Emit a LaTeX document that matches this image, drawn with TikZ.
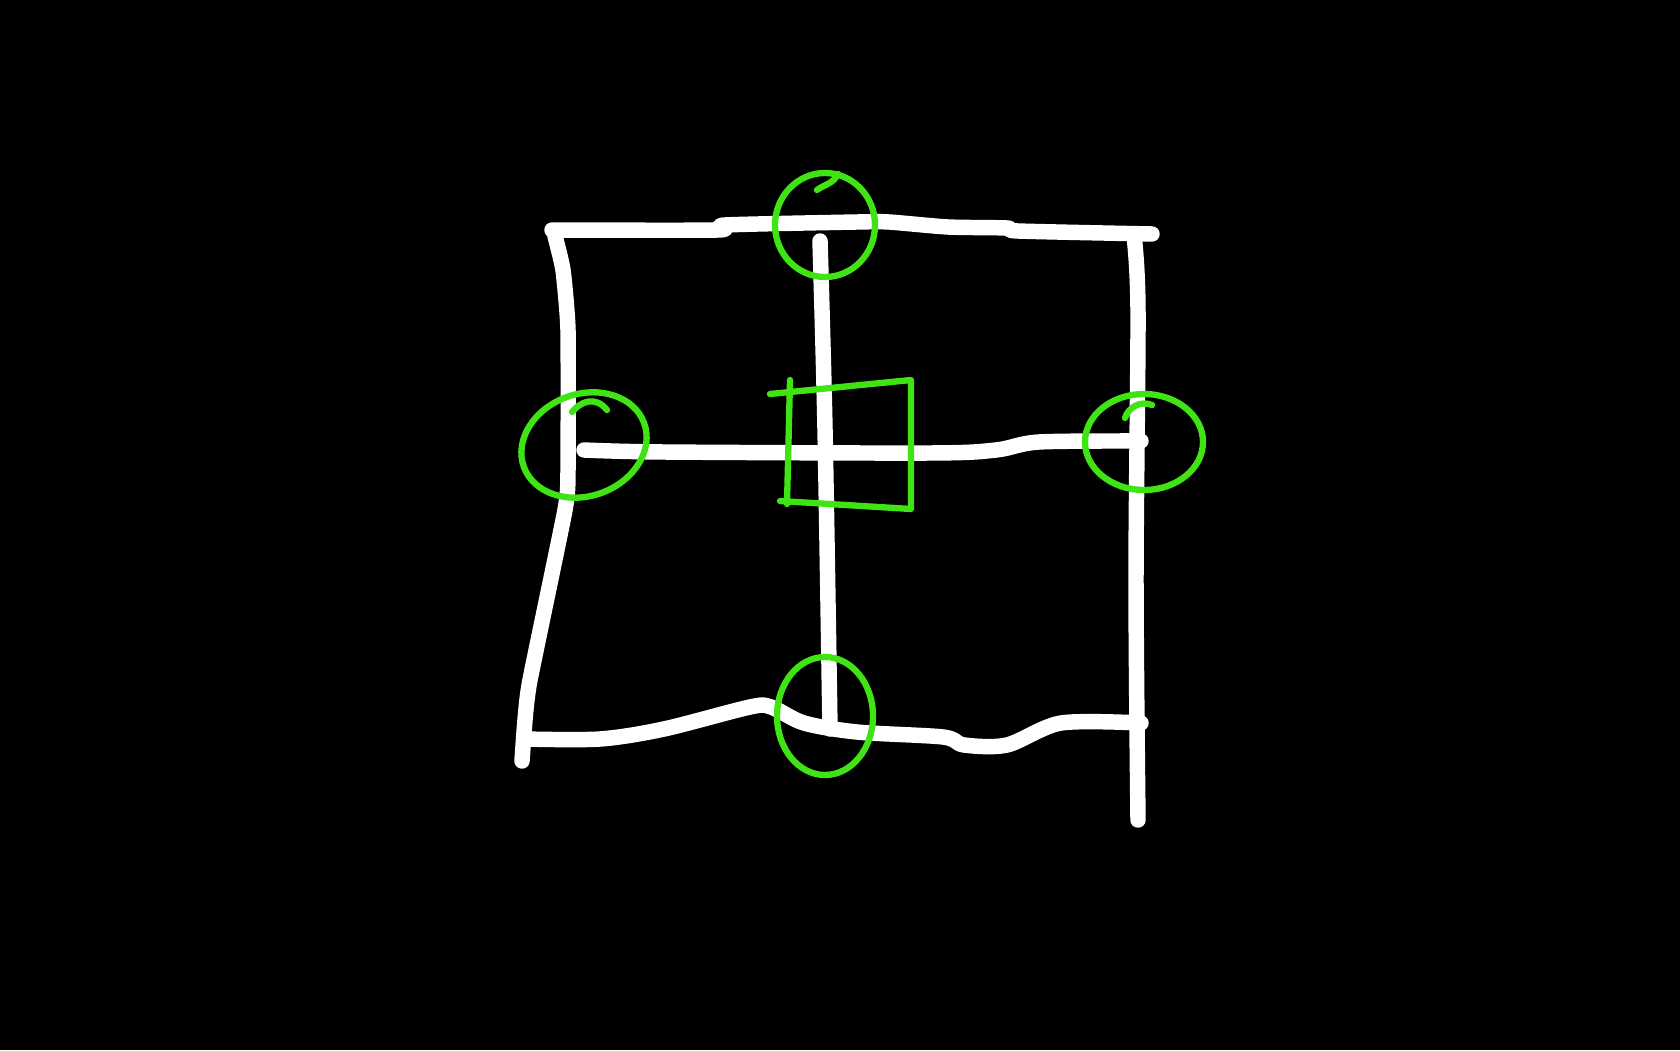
\documentclass[tikz,border=0pt]{standalone}
\usepackage{tikz}
\definecolor{penGreen}{RGB}{64,228,20}
\tikzset{
    wire/.style={draw=white,line width=4.4pt,line cap=round,line join=round},
    ring/.style={draw=penGreen,line width=1.8pt,line cap=round,line join=round}
}

\begin{document}
\begin{tikzpicture}

                \useasboundingbox[fill=black] (0,0) rectangle (16.8,10.5);

                % frame
                \draw[wire] plot[smooth,tension=0.4] coordinates {(5.52,8.20) (7.18,8.20) (7.25,8.25) (8.57,8.28) (8.89,8.28) (9.48,8.23) (10.07,8.22) (10.18,8.19) (11.52,8.16)};
                \draw[wire] plot[smooth,tension=0.3] coordinates {(5.55,8.14) (5.63,7.80) (5.68,7.20) (5.68,5.79) (5.65,5.40) (5.30,3.70) (5.25,3.30) (5.22,2.89)};
                \draw[wire] plot[smooth,tension=0.5] coordinates {(5.25,3.11) (6.00,3.11) (6.64,3.21) (7.50,3.43) (7.71,3.43) (8.04,3.27) (8.57,3.18) (9.43,3.13) (9.64,3.05) (10.07,3.05) (10.61,3.27) (11.41,3.27)};
                \draw[wire] plot[smooth,tension=0.5] coordinates {(11.34,8.14) (11.38,7.39) (11.36,4.71) (11.38,2.30)};

                % cross
                \draw[wire] plot[smooth,tension=0.5] coordinates {(8.20,8.09) (8.25,6.21) (8.30,3.21)};
                \draw[wire] plot[smooth,tension=0.5] coordinates {(5.84,6.00) (6.64,5.98) (9.30,5.97) (9.96,6.00) (10.39,6.08) (11.41,6.09)};

                % rings
                \draw[ring] (8.25,8.25) ellipse [x radius=0.50,y radius=0.52];
                \draw[ring] (8.17,8.60) .. controls (8.25,8.66) and (8.33,8.66) .. (8.38,8.76);
                \draw[ring,rotate around={20:(5.84,6.05)}] (5.84,6.05) ellipse [x radius=0.64,y radius=0.51];
                \draw[ring] (5.72,6.38) .. controls (5.80,6.48) and (5.95,6.55) .. (6.07,6.40);
                \draw[ring] (11.44,6.08) ellipse [x radius=0.59,y radius=0.48];
                \draw[ring] (11.25,6.32) .. controls (11.28,6.42) and (11.40,6.50) .. (11.52,6.45);
                \draw[ring] (8.25,3.34) ellipse [x radius=0.48,y radius=0.59];

                % box
                \draw[ring] (7.70,6.56) -- (9.11,6.70) -- (9.11,5.41) -- (7.80,5.49);
                \draw[ring] (7.90,6.70) -- (7.87,5.46);

\end{tikzpicture}
\end{document}
